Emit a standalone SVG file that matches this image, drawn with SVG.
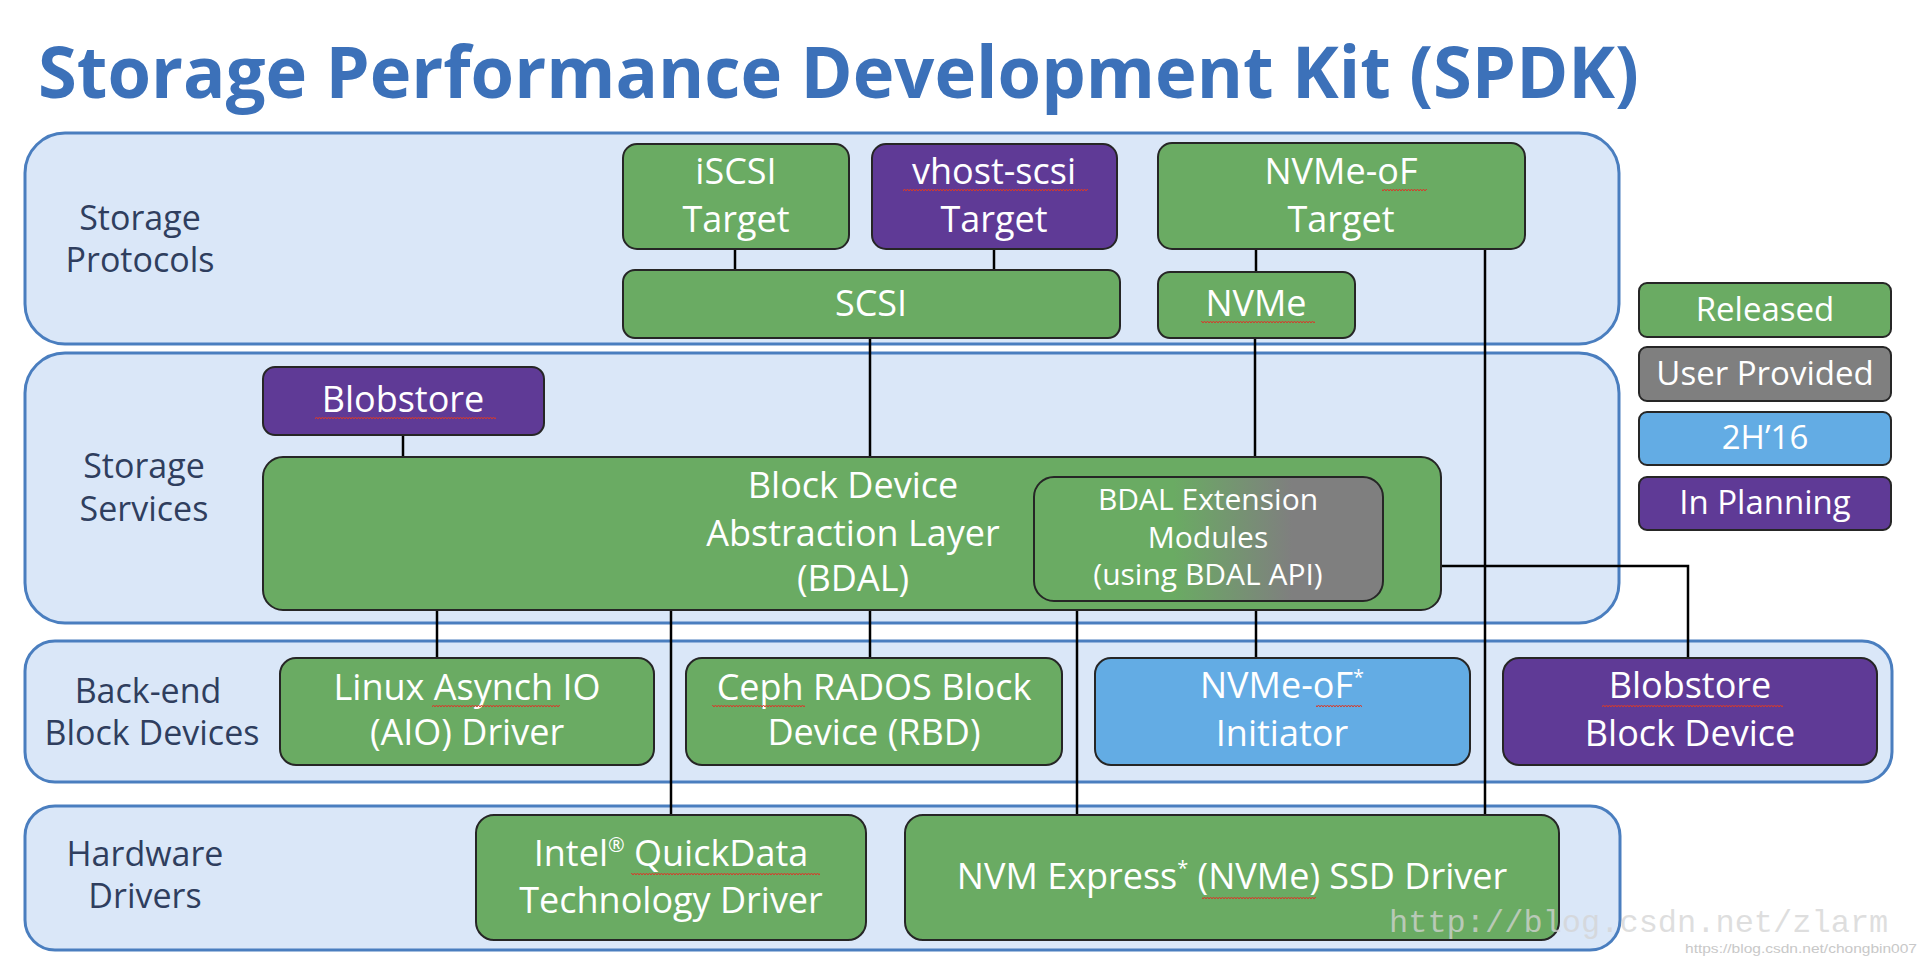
<svg xmlns="http://www.w3.org/2000/svg" width="1928" height="958" viewBox="0 0 1928 958">
<style>
.panel{fill:#dae7f8;stroke:#4a7ebf;stroke-width:3}
.n{stroke:#262626;stroke-width:2}
.g{fill:#6aab63}
.p{fill:#5f3a96}
.b{fill:#63ace4}
.gr{fill:#7f7f7f}
.t{font-family:"Open Sans","Noto Sans",sans-serif;fill:#ffffff;font-size:36px;text-anchor:middle}
.s{font-size:30px}
.lg{font-size:33px}
.l{font-family:"Open Sans","Noto Sans",sans-serif;fill:#2f3e5e;font-size:34px;text-anchor:middle}
.c{stroke:#000;stroke-width:2.5;fill:none}
.sq{fill:url(#wave)}
</style>
<defs>
<pattern id="wave" x="0" y="0" width="6" height="4" patternUnits="userSpaceOnUse">
<path d="M0,3 L1.5,1 L3,3 L4.5,1 L6,3" fill="none" stroke="#d63a2a" stroke-width="1"/>
</pattern>
<linearGradient id="ext" x1="0" y1="0" x2="1" y2="0">
<stop offset="0" stop-color="#6aab63"/>
<stop offset="0.4" stop-color="#6aab63"/>
<stop offset="0.74" stop-color="#7f7f7f"/>
<stop offset="1" stop-color="#7f7f7f"/>
</linearGradient>
</defs>
<rect width="1928" height="958" fill="#ffffff"/>
<text x="38" y="98" font-family="'Open Sans','Noto Sans',sans-serif" font-weight="bold" font-size="72" fill="#3c71b9" textLength="1601" lengthAdjust="spacingAndGlyphs">Storage Performance Development Kit (SPDK)</text>

<g id="panels">
<rect class="panel" x="25" y="133" width="1594" height="211" rx="40"/>
<rect class="panel" x="25" y="353" width="1594" height="270" rx="40"/>
<rect class="panel" x="25" y="641" width="1867" height="141" rx="30"/>
<rect class="panel" x="25" y="806" width="1595" height="144" rx="30"/>
<text class="l" x="140" y="230">Storage</text>
<text class="l" x="140" y="272">Protocols</text>
<text class="l" x="144" y="478">Storage</text>
<text class="l" x="144" y="521">Services</text>
<text class="l" x="148" y="703">Back-end</text>
<text class="l" x="152" y="745">Block Devices</text>
<text class="l" x="145" y="866">Hardware</text>
<text class="l" x="145" y="908">Drivers</text>
</g>

<g id="connectors">
<line class="c" x1="735" y1="249" x2="735" y2="270"/>
<line class="c" x1="994" y1="249" x2="994" y2="270"/>
<line class="c" x1="1256" y1="249" x2="1256" y2="272"/>
<line class="c" x1="1485" y1="249" x2="1485" y2="815"/>
<line class="c" x1="870" y1="338" x2="870" y2="457"/>
<line class="c" x1="1255" y1="338" x2="1255" y2="457"/>
<line class="c" x1="403" y1="435" x2="403" y2="457"/>
<line class="c" x1="437" y1="610" x2="437" y2="658"/>
<line class="c" x1="671" y1="610" x2="671" y2="815"/>
<line class="c" x1="870" y1="610" x2="870" y2="658"/>
<line class="c" x1="1256" y1="601" x2="1256" y2="658"/>
<line class="c" x1="1077" y1="607" x2="1077" y2="815"/>
<polyline class="c" stroke-width="3.5" points="1441,566 1688,566 1688,658"/>
</g>

<g id="iscsi-target">
<rect class="n g" x="623" y="144" width="226" height="105" rx="14"/>
<text class="t" x="736" y="184">iSCSI</text>
<text class="t" x="736" y="232">Target</text>
</g>
<g id="vhost-target">
<rect class="n p" x="872" y="144" width="245" height="105" rx="14"/>
<text class="t" x="994" y="184">vhost-scsi</text>
<text class="t" x="994" y="232">Target</text>
<rect class="sq" x="903" y="188" width="185" height="4"/>
</g>
<g id="nvmeof-target">
<rect class="n g" x="1158" y="143" width="367" height="106" rx="14"/>
<text class="t" x="1341" y="184">NVMe-oF</text>
<text class="t" x="1341" y="232">Target</text>
<rect class="sq" x="1382" y="188" width="45" height="4"/>
</g>
<g id="scsi">
<rect class="n g" x="623" y="270" width="497" height="68" rx="12"/>
<text class="t" x="871" y="316">SCSI</text>
</g>
<g id="nvme">
<rect class="n g" x="1158" y="272" width="197" height="66" rx="12"/>
<text class="t" x="1256" y="316">NVMe</text>
<rect class="sq" x="1201" y="320" width="114" height="4"/>
</g>

<g id="legend-released">
<rect class="n g" x="1639" y="283" width="252" height="54" rx="8"/>
<text class="t lg" x="1765" y="321">Released</text>
</g>
<g id="legend-user">
<rect class="n gr" x="1639" y="347" width="252" height="54" rx="8"/>
<text class="t lg" x="1765" y="385">User Provided</text>
</g>
<g id="legend-2h16">
<rect class="n b" x="1639" y="412" width="252" height="53" rx="8"/>
<text class="t lg" x="1765" y="449">2H’16</text>
</g>
<g id="legend-planning">
<rect class="n p" x="1639" y="477" width="252" height="53" rx="8"/>
<text class="t lg" x="1765" y="514">In Planning</text>
</g>

<g id="blobstore">
<rect class="n p" x="263" y="367" width="281" height="68" rx="12"/>
<text class="t" x="403" y="412">Blobstore</text>
<rect class="sq" x="315" y="416" width="181" height="4"/>
</g>
<g id="bdal">
<rect class="n g" x="263" y="457" width="1178" height="153" rx="20"/>
<text class="t" x="853" y="498">Block Device</text>
<text class="t" x="853" y="546">Abstraction Layer</text>
<text class="t" x="853" y="591">(BDAL)</text>
</g>
<g id="bdal-ext">
<rect class="n" fill="url(#ext)" x="1034" y="477" width="349" height="124" rx="20"/>
<text class="t s" x="1208" y="510">BDAL Extension</text>
<text class="t s" x="1208" y="548">Modules</text>
<text class="t s" x="1208" y="585">(using BDAL API)</text>
</g>

<g id="aio">
<rect class="n g" x="280" y="658" width="374" height="107" rx="16"/>
<text class="t" x="467" y="700">Linux Asynch IO</text>
<text class="t" x="467" y="745">(AIO) Driver</text>
<rect class="sq" x="432" y="704" width="128" height="4"/>
</g>
<g id="rbd">
<rect class="n g" x="686" y="658" width="376" height="107" rx="16"/>
<text class="t" x="874" y="700">Ceph RADOS Block</text>
<text class="t" x="874" y="745">Device (RBD)</text>
<rect class="sq" x="712" y="704" width="93" height="4"/>
</g>
<g id="nvmeof-initiator">
<rect class="n b" x="1095" y="658" width="375" height="107" rx="16"/>
<text class="t" x="1282" y="698">NVMe-oF<tspan font-size="20" dy="-14">*</tspan></text>
<text class="t" x="1282" y="746">Initiator</text>
<rect class="sq" x="1316" y="704" width="46" height="4"/>
</g>
<g id="blobstore-bdev">
<rect class="n p" x="1503" y="658" width="374" height="107" rx="16"/>
<text class="t" font-size="38" x="1690" y="698">Blobstore</text>
<text class="t" font-size="38" x="1690" y="746">Block Device</text>
<rect class="sq" x="1602" y="704" width="181" height="4"/>
</g>

<g id="quickdata">
<rect class="n g" x="476" y="815" width="390" height="125" rx="18"/>
<text class="t" x="671" y="866">Intel<tspan font-size="20" dy="-14">®</tspan><tspan dy="14"> QuickData</tspan></text>
<text class="t" x="671" y="913">Technology Driver</text>
<rect class="sq" x="631" y="872" width="189" height="4"/>
</g>
<g id="nvme-driver">
<rect class="n g" x="905" y="815" width="654" height="125" rx="18"/>
<text class="t" x="1232" y="889">NVM Express<tspan font-size="20" dy="-14">*</tspan><tspan dy="14"> (NVMe) SSD Driver</tspan></text>
<rect class="sq" x="1202" y="896" width="114" height="4"/>
</g>

<g id="watermark">
<text x="1389" y="932" font-family="'Liberation Mono',monospace" font-size="32" fill="#d4d4d4" fill-opacity="0.75">http://blog.csdn.net/zlarm</text>
<text x="1685" y="953" font-family="'Liberation Sans',sans-serif" font-size="13" fill="#c8c8c8" textLength="232" lengthAdjust="spacingAndGlyphs">https://blog.csdn.net/chongbin007</text>
</g>
</svg>
